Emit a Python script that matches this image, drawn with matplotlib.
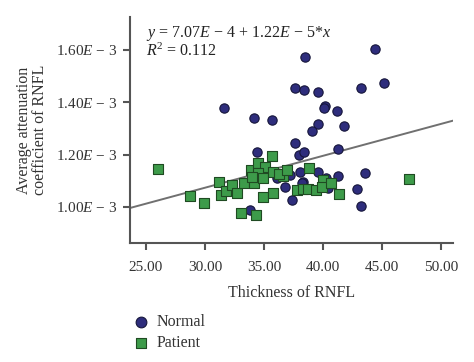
import matplotlib
matplotlib.use('Agg')
import matplotlib.pyplot as plt
import numpy as np

plt.rcParams['font.family'] = ['Liberation Serif', 'DejaVu Serif']
plt.rcParams['mathtext.fontset'] = 'custom'
plt.rcParams['mathtext.rm'] = 'Liberation Serif'
plt.rcParams['mathtext.it'] = 'Liberation Serif:italic'

# thickness of RNFL, attenuation coefficient (units of 1E-3)
normal_x = [44.4, 38.5, 37.6, 38.4, 39.55, 43.2, 45.2, 40.2, 40.1, 41.2,
            34.15, 35.7, 39.6, 39.1, 41.75, 37.6, 41.3, 34.4, 38.0, 38.4,
            31.6, 39.6, 38.05, 43.6, 41.3, 40.3, 36.8, 38.3, 40.45, 42.85,
            37.4, 43.2, 33.8, 36.1, 36.9, 37.2, 34.1, 38.2]
normal_y = [1.604, 1.573, 1.456, 1.448, 1.440, 1.456, 1.473, 1.386, 1.377, 1.367,
            1.340, 1.332, 1.317, 1.289, 1.309, 1.243, 1.223, 1.210, 1.198, 1.209,
            1.377, 1.132, 1.133, 1.128, 1.118, 1.109, 1.075, 1.094, 1.071, 1.067,
            1.028, 1.003, 0.988, 1.112, 1.122, 1.122, 1.110, 1.090]

patient_x = [26.0, 28.7, 29.9, 31.2, 31.4, 31.8, 32.3, 32.7, 33.3, 33.1,
             34.3, 33.9, 34.5, 35.1, 35.7, 34.2, 34.9, 35.8, 34.5, 34.9,
             35.8, 36.6, 37.8, 38.3, 38.8, 38.7, 39.4, 40.0, 39.95, 40.7,
             41.4, 47.3, 34.0, 36.3, 37.0]
patient_y = [1.144, 1.043, 1.014, 1.096, 1.045, 1.061, 1.084, 1.052, 1.090, 0.975,
             0.969, 1.141, 1.167, 1.154, 1.195, 1.090, 1.039, 1.052, 1.128, 1.109,
             1.135, 1.118, 1.065, 1.067, 1.150, 1.067, 1.065, 1.103, 1.075, 1.093,
             1.048, 1.107, 1.115, 1.125, 1.140]

intercept = 7.07e-4
slope = 1.22e-5

xticks = [25, 30, 35, 40, 45, 50]
xticklabels = ['25.00', '30.00', '35.00', '40.00', '45.00', '50.00']
yticks = [1.0e-3, 1.2e-3, 1.4e-3, 1.6e-3]
yticklabels = ['1.00$E$ − 3', '1.20$E$ − 3', '1.40$E$ − 3', '1.60$E$ − 3']

fig = plt.figure(figsize=(4.74, 3.62), dpi=100)
ax = fig.add_axes([0.274, 0.329, 0.681, 0.624])

xmin, xmax = 23.64, 51.0
ax.set_xlim(xmin, xmax)
ax.set_ylim(0.862e-3, 1.726e-3)

lx = np.array([xmin, xmax])
ax.plot(lx, intercept + slope * lx, color='#707070', lw=1.4, zorder=1)

ax.scatter(np.array(normal_x), np.array(normal_y) * 1e-3, s=45, marker='o',
           facecolor='#2e2d7c', edgecolor='#15153a', linewidth=0.8,
           label='Normal', zorder=3)
ax.scatter(np.array(patient_x), np.array(patient_y) * 1e-3, s=42, marker='s',
           facecolor='#3d9b4a', edgecolor='#1f4a22', linewidth=0.8,
           label='Patient', zorder=3)

ax.set_xticks(xticks)
ax.set_xticklabels(xticklabels)
ax.set_yticks(yticks)
ax.set_yticklabels(yticklabels)

for s in ['top', 'right']:
    ax.spines[s].set_visible(False)
for s in ['left', 'bottom']:
    ax.spines[s].set_color('#555555')
    ax.spines[s].set_linewidth(1.5)
ax.tick_params(direction='out', length=5, width=1.5, color='#555555',
               labelsize=11, labelcolor='#333333', pad=4)
ax.tick_params(axis='x', pad=8)

ax.set_xlabel('Thickness of RNFL', fontsize=11.5, color='#333333', labelpad=8)
ax.set_ylabel('Average attenuation\ncoefficient of RNFL', fontsize=11.5,
              color='#333333', labelpad=6, linespacing=1.0)

ax.text(0.05, 0.97, '$y$ = 7.07$E$ − 4 + 1.22$E$ − 5*$x$\n$R^2$ = 0.112',
        transform=ax.transAxes, ha='left', va='top', fontsize=11.5,
        color='#222222', linespacing=1.0)

fig.legend(loc='upper left', bbox_to_anchor=(0.25, 0.15), frameon=False,
           fontsize=11.5, handletextpad=0.0, labelspacing=0.3,
           borderaxespad=0, labelcolor='#333333', markerscale=1.15)

fig.savefig('out.png', dpi=100)
